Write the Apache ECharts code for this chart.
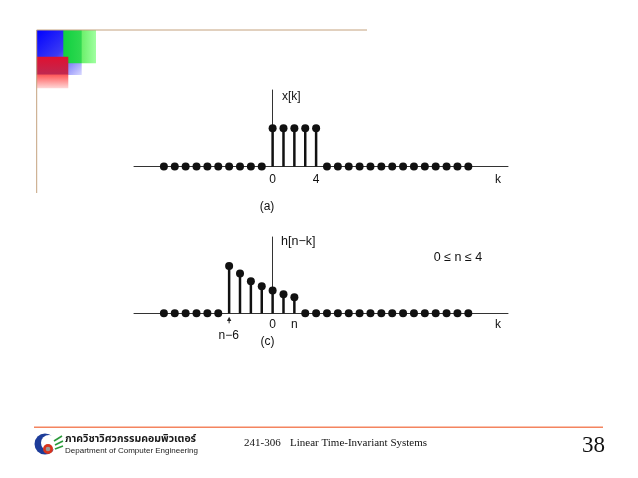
<!DOCTYPE html>
<html><head><meta charset="utf-8">
<script src="https://cdn.jsdelivr.net/npm/echarts@6/dist/echarts.min.js"></script>
<style>html,body{margin:0;padding:0;background:#fff}#c{width:638px;height:478px}</style>
</head><body><div id="c"></div>
<script>
// ---- data ----
const kValues = [-10,-9,-8,-7,-6,-5,-4,-3,-2,-1,0,1,2,3,4,5,6,7,8,9,10,11,12,13,14,15,16,17,18];
// (a) x[k]
const xValues = [0,0,0,0,0,0,0,0,0,0,1,1,1,1,1,0,0,0,0,0,0,0,0,0,0,0,0,0,0];
// (c) h[n-k] for n = 2
const hValues = [0,0,0,0,0,0,1.24,1.04,0.84,0.71,0.60,0.50,0.42,0,0,0,0,0,0,0,0,0,0,0,0,0,0,0,0];
const ticksA = [0, 4];
const tickLabelsA = ['0', '4'];
const ticksC = [0, 2];
const tickLabelsC = ['0', 'n'];
const arrowK = -4;
const arrowLabel = 'n\u22126';
const nameA = 'x[k]';
const nameC = 'h[n\u2212k]';
const captionA = '(a)';
const captionC = '(c)';
const rangeNote = '0 \u2264 n \u2264 4';
const axisName = 'k';
const footerCourse = '241-306';
const footerTitle = 'Linear Time-Invariant Systems';
const footerPage = '38';
const deptThai = 'ภาควิชาวิศวกรรมคอมพิวเตอร์';
const deptEng = 'Department of Computer Engineering';

// ---- build ----
const FONT = '"Liberation Sans", Arial, sans-serif';
const SERIF = '"Liberation Serif", "Times New Roman", serif';
const INK = '#111';
function pairs(vals){ return kValues.map((k,i)=>[k, vals[i]]); }
function stems(vals){ return pairs(vals).filter(p=>p[1] !== 0); }

function xAxisFor(gi, ticks, labels, margin){
  return {type:'value', gridIndex:gi, min:-12.75, max:21.65,
    axisLine:{show:true, onZero:true, lineStyle:{color:'#333', width:1}},
    axisTick:{show:false}, splitLine:{show:false},
    axisLabel:{show:true, customValues:ticks, margin:margin, color:INK, fontSize:12, fontFamily:FONT,
      formatter:(v)=>{const i = ticks.indexOf(v); return i>=0 ? labels[i] : '';}}};
}
function yAxisFor(gi){
  return {type:'value', gridIndex:gi, min:0, max:2,
    axisLine:{show:true, onZero:true, lineStyle:{color:'#333', width:1}},
    axisTick:{show:false}, axisLabel:{show:false}, splitLine:{show:false}};
}
function txt(text, x, y, size, opts){
  return {type:'text', silent:true, style:Object.assign({text:text, x:x, y:y, fill:INK,
    fontSize:size, fontFamily:FONT, align:'center', verticalAlign:'middle'}, (opts||{}))};
}

const chart = echarts.init(document.getElementById('c'), null, {renderer:'canvas'});
const graphics = [
    // slide decoration
    {type:'rect', silent:true, shape:{x:36.7,y:30,width:45,height:45},
      style:{fill:new echarts.graphic.LinearGradient(0,0,1,1,[{offset:0,color:'#0000ff'},{offset:0.5,color:'#3a3af4'},{offset:1,color:'#d8d8ff'}])}},
    {type:'rect', silent:true, shape:{x:63.3,y:30,width:32.7,height:33.3},
      style:{fill:new echarts.graphic.LinearGradient(0,0,1,0,[{offset:0,color:'#10d040'},{offset:0.55,color:'#30d850'},{offset:0.57,color:'#6cf06c'},{offset:1,color:'#a0ffa0'}])}},
    {type:'rect', silent:true, shape:{x:36.7,y:56.7,width:31.6,height:31.6},
      style:{fill:new echarts.graphic.LinearGradient(0,0,0,1,[{offset:0,color:'#e01030'},{offset:0.55,color:'#c02850'},{offset:0.58,color:'#ff5a5a'},{offset:1,color:'#ffd8d8'}])}},
    {type:'line', silent:true, shape:{x1:36.7,y1:30,x2:367,y2:30}, style:{stroke:'#c4a27e', lineWidth:1}},
    {type:'line', silent:true, shape:{x1:36.7,y1:30,x2:36.7,y2:193}, style:{stroke:'#c4a27e', lineWidth:1}},
    // chart annotations
    txt(nameA, 282, 97, 12, {align:'left'}),
    txt(nameC, 281, 241.7, 12.5, {align:'left'}),
    txt(axisName, 498, 180, 12),
    txt(axisName, 498, 325, 12),
    txt(captionA, 267, 206.5, 12),
    txt(captionC, 267.5, 342, 12),
    txt(rangeNote, 458, 258, 12.5),
    // footer
    {type:'line', silent:true, shape:{x1:34,y1:427.3,x2:603,y2:427.3}, style:{stroke:'#f4845f', lineWidth:1.5}},
    {type:'circle', silent:true, shape:{cx:45,cy:444,r:10.5}, style:{fill:'#1d3c99'}},
    {type:'circle', silent:true, shape:{cx:49,cy:443,r:8}, style:{fill:'#fff'}},
    {type:'circle', silent:true, shape:{cx:48,cy:449,r:5}, style:{fill:'#d8341e'}},
    {type:'circle', silent:true, shape:{cx:48,cy:449,r:2.3}, style:{fill:'#9a9a9a'}},
    {type:'line', silent:true, shape:{x1:54,y1:441,x2:62,y2:436}, style:{stroke:'#2a9a3a', lineWidth:1.6}},
    {type:'line', silent:true, shape:{x1:55,y1:445,x2:63,y2:441}, style:{stroke:'#2a9a3a', lineWidth:1.6}},
    {type:'line', silent:true, shape:{x1:55,y1:449,x2:63,y2:446}, style:{stroke:'#2a9a3a', lineWidth:1.6}},
    txt(deptThai, 65, 440, 10.5, {align:'left', fontWeight:'bold', fontFamily:'"Noto Sans Thai", "Noto Sans", "DejaVu Sans", sans-serif', fill:'#1a1a1a'}),
    txt(deptEng, 65, 450.5, 8, {align:'left', fill:'#222'}),
    txt(footerCourse, 244, 443.5, 11, {align:'left', fontFamily:SERIF}),
    txt(footerTitle, 290, 443.5, 11, {align:'left', fontFamily:SERIF}),
    txt(footerPage, 605, 446, 23, {align:'right', fontFamily:SERIF})
];
chart.setOption({
  animation:false,
  backgroundColor:'#fff',
  grid:[
    {left:134, right:130, top:90, height:76.5},
    {left:134, right:130, top:237, height:76.3}
  ],
  xAxis:[ xAxisFor(0, ticksA, tickLabelsA, 7), xAxisFor(1, ticksC, tickLabelsC, 5) ],
  yAxis:[ yAxisFor(0), yAxisFor(1) ],
  series:[
    {type:'bar', xAxisIndex:0, yAxisIndex:0, data:stems(xValues), barWidth:2.5, itemStyle:{color:INK}, silent:true, z:2},
    {type:'scatter', xAxisIndex:0, yAxisIndex:0, data:pairs(xValues), symbolSize:8, itemStyle:{color:INK, opacity:1}, silent:true, z:3},
    {type:'bar', xAxisIndex:1, yAxisIndex:1, data:stems(hValues), barWidth:2.5, itemStyle:{color:INK}, silent:true, z:2},
    {type:'scatter', xAxisIndex:1, yAxisIndex:1, data:pairs(hValues), symbolSize:8, itemStyle:{color:INK, opacity:1}, silent:true, z:3}
  ],
  graphic:graphics
});

// arrow marking k = n-6, placed through the chart's own scale
const p = chart.convertToPixel({xAxisIndex:1, yAxisIndex:1}, [arrowK, 0]);
const ax = p[0], ay = p[1];
graphics.push(
  {type:'line', silent:true, shape:{x1:ax, y1:ay+10, x2:ax, y2:ay+6}, style:{stroke:'#222', lineWidth:1}},
  {type:'polygon', silent:true, shape:{points:[[ax, ay+3.5],[ax-2.2, ay+7.8],[ax+2.2, ay+7.8]]}, style:{fill:'#222'}},
  txt(arrowLabel, ax - 0.5, ay + 22.5, 12)
);
chart.setOption({graphic:graphics}, {replaceMerge:['graphic']});
</script></body></html>
